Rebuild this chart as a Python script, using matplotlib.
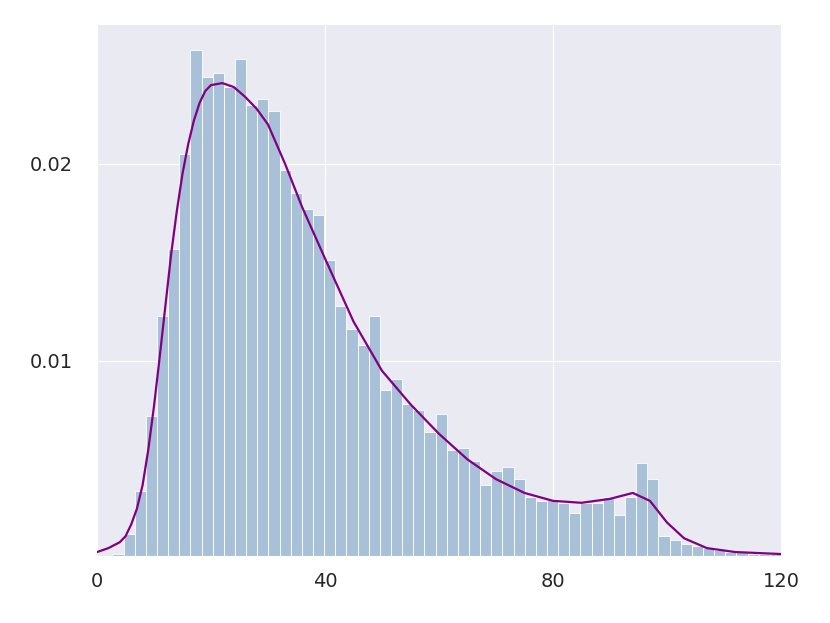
import numpy as np
import matplotlib
matplotlib.use('Agg')
import matplotlib.pyplot as plt
import seaborn as sns

# histogram heights (density), 60 bins from 2.7 to 120
bin_start = 2.7
bin_end = 120.0
heights = [0.0002, 0.0012, 0.0034, 0.0072, 0.0123, 0.0157, 0.0205, 0.0258, 0.0244, 0.0246,
           0.0239, 0.0253, 0.0230, 0.0233, 0.0227, 0.0197, 0.0185, 0.0177, 0.0174, 0.0151,
           0.0128, 0.0116, 0.0108, 0.0123, 0.0085, 0.0091, 0.0078, 0.0075, 0.0064, 0.0073,
           0.0055, 0.0056, 0.0049, 0.0037, 0.0044, 0.0046, 0.0040, 0.0031, 0.0029, 0.0030,
           0.0028, 0.0023, 0.0028, 0.0028, 0.0031, 0.0022, 0.0031, 0.0048, 0.0040, 0.0011,
           0.0009, 0.0007, 0.0006, 0.0005, 0.0004, 0.0003, 0.0003, 0.0002, 0.0002, 0.0002]

# kde curve
kde_x = [0, 2, 4, 5, 6, 7, 8, 9, 10, 11, 12, 13, 14, 15, 16, 17, 18, 19, 20, 22, 24, 26,
         28, 30, 33, 36, 40, 45, 50, 55, 60, 65, 70, 75, 80, 85, 90, 94, 97, 100, 103,
         107, 112, 120]
kde_y = [0.0003, 0.0005, 0.0008, 0.0011, 0.0017, 0.0025, 0.0037, 0.0055, 0.0077, 0.0102,
         0.0128, 0.0154, 0.0176, 0.0195, 0.0210, 0.0222, 0.0231, 0.0237, 0.0240, 0.0241,
         0.0239, 0.0234, 0.0228, 0.0220, 0.0200, 0.0178, 0.0152, 0.0120, 0.0095, 0.0078,
         0.0063, 0.0050, 0.0040, 0.0033, 0.0029, 0.0028, 0.0030, 0.0033, 0.0029, 0.0018,
         0.0010, 0.0005, 0.0003, 0.0002]

sns.set_style('darkgrid')
fig = plt.figure(figsize=(8.3, 6.23), dpi=100)
ax = fig.add_axes([97/830, 1 - 556/623, (781-97)/830, (556-24)/623])

edges = np.linspace(bin_start, bin_end, len(heights) + 1)
ax.bar(edges[:-1], heights, width=np.diff(edges), align='edge',
       color='#a9c0d9', edgecolor='white', linewidth=0.6, zorder=2)
ax.plot(kde_x, kde_y, color='purple', linewidth=1.6, zorder=3)

ax.set_xlim(0, 120)
ax.set_ylim(0.0001, 0.0271)
ax.set_xticks([0, 40, 80, 120])
ax.set_yticks([0.01, 0.02])
ax.set_yticklabels(['0.01', '0.02'])
ax.tick_params(labelsize=14, colors='#262626')
ax.tick_params(axis='x', pad=8)
ax.tick_params(axis='y', pad=14)

fig.savefig('out.png', dpi=100)
